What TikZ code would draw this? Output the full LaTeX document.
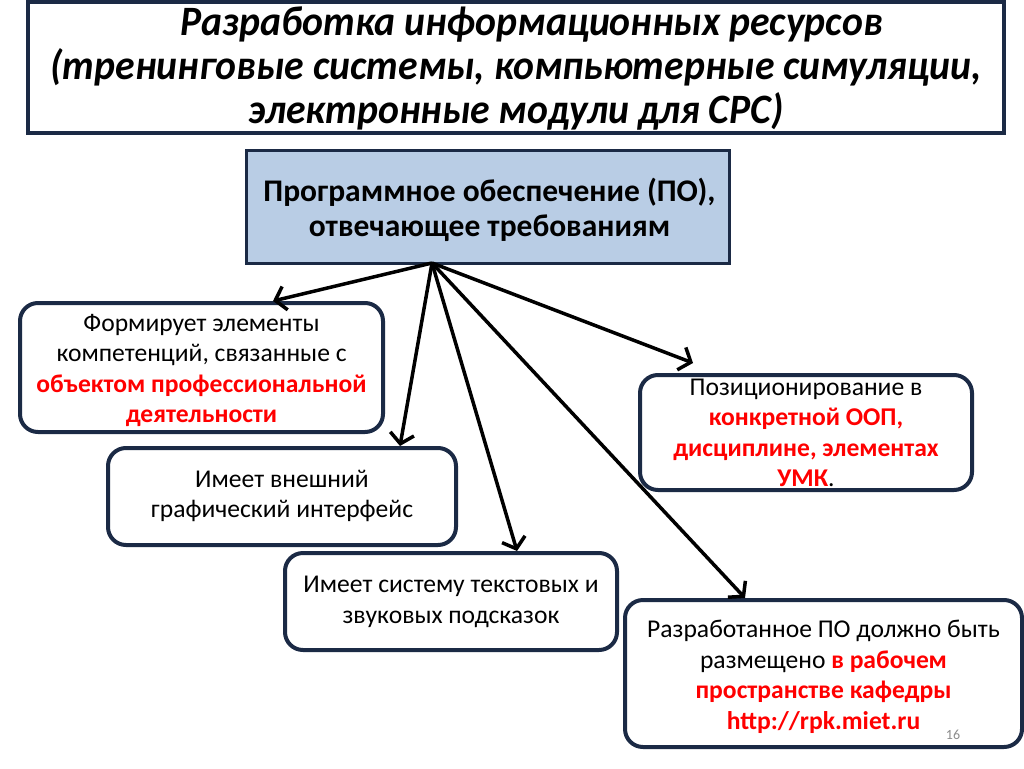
\documentclass[tikz,border=0pt]{standalone}
\usepackage{fontspec}
\setmainfont{Carlito}
\usetikzlibrary{arrows.meta}
\definecolor{navy}{HTML}{1B2A45}
\definecolor{hdrfill}{HTML}{B9CDE5}
\definecolor{redtxt}{HTML}{FF0000}
\definecolor{pgnum}{HTML}{8C8C8C}
\tikzset{
  box/.style={draw=navy, line width=4pt, rounded corners=18pt, fill=white, inner sep=0pt},
  txt/.style={align=center, font=\fontsize{25.6}{30.5}\selectfont, inner sep=0pt},
  arr/.style={line width=3.5pt, -{Straight Barb[length=10pt,width=24pt]}},
}
\newcommand{\rd}[1]{{\color{redtxt}\bfseries #1}}
\begin{document}
\begin{tikzpicture}[x=1pt,y=-1pt]
\useasboundingbox (0,0) rectangle (1024,768);
\fill[white] (0,0) rectangle (1024,768);
% title
\node[draw=navy, line width=3.5pt, fill=white, minimum width=976pt, minimum height=131pt, inner sep=0pt] (title) at (516,67.5) {};
\node[inner sep=0pt] (titletxt) at (516,70.5)
  {\scalebox{1.045}[1.1]{\fontsize{38}{39.5}\selectfont\bfseries\itshape
   \begin{tabular}{@{}c@{}}\hspace*{30pt}Разработка информационных ресурсов\\(тренинговые системы, компьютерные симуляции,\\электронные модули для СРС)\end{tabular}}};
% central box
\node[draw=navy, line width=3pt, fill=hdrfill, minimum width=483pt, minimum height=113pt, inner sep=0pt] (cb) at (487.5,206.5) {};
\node[align=center, inner sep=0pt, font=\fontsize{31.5}{35}\selectfont\bfseries] (cbtxt) at (489.5,209.5)
  {Программное обеспечение (ПО),\\отвечающее требованиям};
% boxes
\node[box, minimum width=363pt, minimum height=129pt] (b1) at (201.5,367.5) {};
\node[txt] (b1t) at (201.5,370.5) {Формирует элементы\\компетенций, связанные с\\\rd{объектом профессиональной}\\\rd{деятельности}};
\node[box, minimum width=348pt, minimum height=97pt] (b2) at (282,496.5) {};
\node[txt] (b2t) at (282,496) {Имеет внешний\\графический интерфейс};
\node[box, minimum width=332pt, minimum height=97pt] (b3) at (451,601.5) {};
\node[txt] (b3t) at (451,602) {Имеет систему текстовых и\\звуковых подсказок};
\node[box, minimum width=332pt, minimum height=115pt] (b4) at (806,432.5) {};
\node[txt] (b4t) at (806,433) {Позиционирование в\\\rd{конкретной ООП,}\\\rd{дисциплине, элементах}\\\rd{УМК}.};
\node[box, minimum width=397pt, minimum height=147pt] (b5) at (823.5,673.5) {};
\node[txt] (b5t) at (823.5,677) {Разработанное ПО должно быть\\размещено \rd{в рабочем}\\\rd{пространстве кафедры}\\\rd{http://rpk.miet.ru}};
\node[text=pgnum, inner sep=0pt, font=\fontsize{14}{16}\selectfont] (pg) at (953,735) {16};
% arrows
\coordinate (src) at (432,263);
\draw[arr] (src) -- ([xshift=71.5pt]b1.north);
\draw[arr] (src) -- ([xshift=118pt]b2.north);
\draw[arr] (src) -- ([xshift=66pt]b3.north);
\draw[arr] (src) -- ([xshift=-113pt,yshift=10pt]b4.north);
\draw[arr] (src) -- ([xshift=-78.5pt]b5.north);
\end{tikzpicture}
\end{document}
